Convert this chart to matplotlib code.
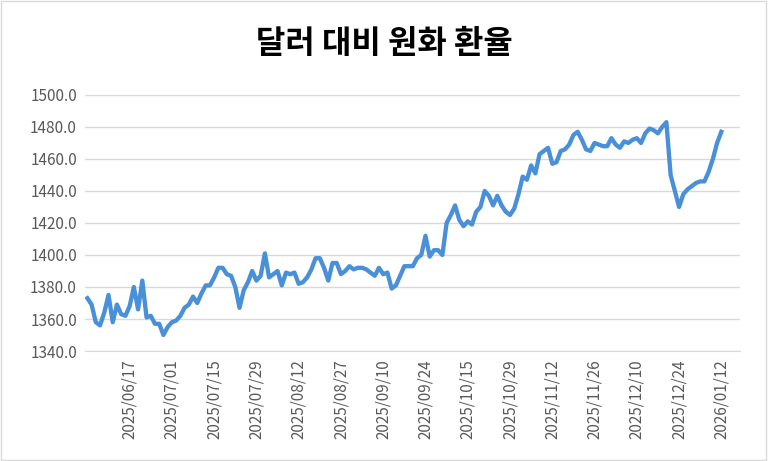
import matplotlib
matplotlib.use("Agg")
import matplotlib.pyplot as plt
from matplotlib.patches import Rectangle

values = [
    1373,1369,1358,1356,1364,1375,1358,1369,1363,1362,
    1368,1380,1366,1384,1361,1362,1357,1357,1350,1355,
    1358,1359,1362,1367,1369,1374,1370,1376,1381,1381,
    1386,1392,1392,1388,1387,1380,1367,1378,1383,1390,
    1384,1387,1401,1386,1388,1390,1381,1389,1388,1389,
    1382,1383,1386,1391,1398,1398,1392,1384,1395,1395,
    1388,1390,1393,1391,1392,1392,1391,1389,1387,1392,
    1388,1389,1379,1381,1387,1393,1393,1393,1398,1400,
    1412,1399,1403,1403,1400,1420,1425,1431,1422,1418,
    1421,1419,1427,1430,1440,1437,1431,1437,1431,1427,
    1425,1429,1438,1449,1447,1456,1451,1463,1465,1467,
    1457,1458,1465,1466,1469,1475,1477,1472,1466,1465,
    1470,1469,1468,1468,1473,1469,1467,1471,1470,1472,
    1473,1470,1476,1479,1478,1476,1480,1483,1450,1440,
    1430,1438,1441,1443,1445,1446,1446,1452,1460,1470,
    1477,
]
tick_labels = ["2025/06/17","2025/07/01","2025/07/15","2025/07/29","2025/08/12",
               "2025/08/27","2025/09/10","2025/09/24","2025/10/15","2025/10/29",
               "2025/11/12","2025/11/26","2025/12/10","2025/12/24","2026/01/12"]
tick_idx = [10 + 10*k for k in range(len(tick_labels))]
title = "달러 대비 원화 환율"

plt.rcParams['font.family'] = ['Noto Sans CJK KR', 'DejaVu Sans']
fig = plt.figure(figsize=(7.68, 4.61), dpi=100)
ax = fig.add_axes([0.111, 0.2386, 0.853, 0.5554])
x = list(range(len(values)))
ax.plot(x, values, color='#4A90D9', lw=3.1, solid_joinstyle='round', zorder=3)
ax.set_ylim(1340, 1500)
ax.set_yticks(range(1340, 1501, 20))
ax.set_yticklabels([f"{v:.1f}" for v in range(1340, 1501, 20)])
ax.set_xlim(-0.5, len(values) + 3.5)
ax.set_xticks(tick_idx)
ax.set_xticklabels(tick_labels, rotation=90)
ax.tick_params(length=0, labelsize=11, colors='#595959', pad=6)
ax.grid(axis='y', color='#D9D9D9', lw=1)
for s in ax.spines.values():
    s.set_visible(False)
ax.spines['bottom'].set_visible(True)
ax.spines['bottom'].set_color('#D9D9D9')
fig.text(0.5, 0.905, title, ha='center', va='center', fontsize=23, fontweight='bold', color='black')
fig.patches.append(Rectangle((0.001, 0.002), 0.997, 0.995, transform=fig.transFigure,
                             fill=False, edgecolor='#D9D9D9', lw=1))
fig.savefig("out.png", dpi=100)
